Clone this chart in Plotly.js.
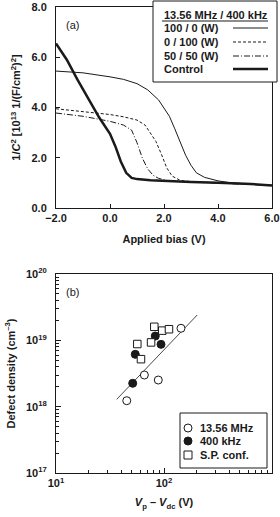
<!DOCTYPE html>
<html>
<head>
<meta charset="utf-8">
<script src="https://cdn.plot.ly/plotly-3.0.1.min.js"></script>
<style>
html,body{margin:0;padding:0;background:#fff;}
#chart{width:280px;height:517px;}
</style>
</head>
<body>
<div id="chart"></div>
<script>
// ---- Panel (a): 1/C^2 vs applied bias ----
const bias_100_0 = [-2, -1, 0, 0.5, 1.0, 1.4, 1.8, 2.0, 2.2, 2.4, 2.6, 2.8, 3.0, 3.2, 3.5, 4.0, 4.5, 5.0, 6.0];
const invC2_100_0 = [5.45, 5.38, 5.22, 5.12, 4.95, 4.7, 4.3, 4.0, 3.65, 3.15, 2.6, 2.1, 1.7, 1.4, 1.22, 1.08, 1.0, 0.97, 0.9];

const bias_0_100 = [-2, -1, 0, 0.5, 1.0, 1.3, 1.5, 1.7, 1.9, 2.1, 2.3, 2.6, 3.0, 4.0, 5.0, 6.0];
const invC2_0_100 = [3.95, 3.85, 3.72, 3.63, 3.5, 3.3, 3.0, 2.65, 2.15, 1.6, 1.27, 1.1, 1.05, 1.0, 0.96, 0.9];

const bias_50_50 = [-2, -1, 0, 0.5, 0.8, 1.0, 1.2, 1.4, 1.6, 1.8, 2.2, 3.0, 4.0, 5.0, 6.0];
const invC2_50_50 = [3.78, 3.65, 3.45, 3.3, 3.1, 2.6, 1.98, 1.55, 1.3, 1.18, 1.07, 1.03, 1.0, 0.96, 0.9];

const bias_control = [-2.0, -1.6, -1.2, -0.8, -0.4, 0.0, 0.2, 0.4, 0.6, 0.8, 1.0, 1.5, 2.0, 3.0, 4.0, 5.0, 6.0];
const invC2_control = [6.55, 5.9, 5.1, 4.35, 3.6, 2.95, 2.45, 1.85, 1.4, 1.2, 1.15, 1.1, 1.07, 1.03, 1.0, 0.97, 0.9];

const legendA_title = "13.56 MHz / 400 kHz";
const legendA_labels = ["100 / 0 (W)", "0 / 100 (W)", "50 / 50 (W)", "Control"];

// ---- Panel (b): defect density vs Vp - Vdc ----
const vdiff_1356 = [143.6, 65.8, 88.5, 45.2];
const defect_1356 = [1.52e19, 3.0e18, 2.52e18, 1.23e18];

const vdiff_400k = [83.0, 93.8, 54.2, 51.3];
const defect_400k = [1.16e19, 8.7e18, 6.15e18, 2.25e18];

const vdiff_sp = [81.3, 96.4, 111.2, 56.6, 75.9, 61.2];
const defect_sp = [1.60e19, 1.40e19, 1.47e19, 8.8e18, 9.3e18, 5.2e18];

const fit_x = [36.5, 203];
const fit_y = [1.29e18, 2.41e19];

const legendB_labels = ["13.56 MHz", "400 kHz", "S.P. conf."];

const xTicksA = [-2, 0, 2, 4, 6];
const yTicksA = [0, 2, 4, 6, 8];
const xTicksB = [10, 100, 1000];
const xTickTextB = ["10<sup>1</sup>", "10<sup>2</sup>", "10<sup>3</sup>"];
const yTicksB = [1e17, 1e18, 1e19, 1e20];
const yTickTextB = ["10<sup>17</sup>", "10<sup>18</sup>", "10<sup>19</sup>", "10<sup>20</sup>"];

// ---- layout helpers (pixel -> paper) ----
const W = 280, H = 517;
const M = {l: 56, r: 8, t: 7, b: 44};
const PW = W - M.l - M.r, PH = H - M.t - M.b;
const px = p => (p - M.l) / PW;
const py = p => (H - M.b - p) / PH;

const minorX = [], minorY = [];
for (let d = 1; d <= 2; d++) for (let k = 2; k <= 9; k++) minorX.push(k * Math.pow(10, d));
for (let d = 17; d <= 19; d++) for (let k = 2; k <= 9; k++) minorY.push(k * Math.pow(10, d));

const FONT = "Liberation Sans, Arial, sans-serif";
const INK = "#1a1a1a";

const traces = [
  {x: bias_100_0, y: invC2_100_0, xaxis: 'x', yaxis: 'y', mode: 'lines', line: {color: INK, width: 1}, showlegend: false},
  {x: bias_0_100, y: invC2_0_100, xaxis: 'x', yaxis: 'y', mode: 'lines', line: {color: INK, width: 1, dash: '3px,2px'}, showlegend: false},
  {x: bias_50_50, y: invC2_50_50, xaxis: 'x', yaxis: 'y', mode: 'lines', line: {color: INK, width: 1, dash: '6px,2px,1px,2px'}, showlegend: false},
  {x: bias_control, y: invC2_control, xaxis: 'x', yaxis: 'y', mode: 'lines', line: {color: INK, width: 2.5}, showlegend: false},
  {x: fit_x, y: fit_y, xaxis: 'x2', yaxis: 'y2', mode: 'lines', line: {color: INK, width: 0.8}, showlegend: false},
  {x: vdiff_1356, y: defect_1356, xaxis: 'x2', yaxis: 'y2', mode: 'markers',
   marker: {symbol: 'circle', size: 8, color: '#fff', line: {color: INK, width: 1}}, showlegend: false},
  {x: vdiff_400k, y: defect_400k, xaxis: 'x2', yaxis: 'y2', mode: 'markers',
   marker: {symbol: 'circle', size: 8, color: INK, line: {color: INK, width: 1}}, showlegend: false},
  {x: vdiff_sp, y: defect_sp, xaxis: 'x2', yaxis: 'y2', mode: 'markers',
   marker: {symbol: 'square', size: 7.5, color: '#fff', line: {color: INK, width: 1}}, showlegend: false}
];

const axCommon = {
  showline: true, linecolor: INK, linewidth: 1, mirror: true,
  ticks: 'inside', ticklen: 4, tickcolor: INK, showgrid: false, zeroline: false,
  tickfont: {family: FONT, size: 11, color: INK, weight: 'bold'}
};

const shapes = [];
const annotations = [];

// Legend (a)
shapes.push({type: 'rect', xref: 'paper', yref: 'paper', x0: px(153), x1: px(277), y0: py(82), y1: py(1),
  line: {color: INK, width: 1}, fillcolor: '#fff', layer: 'above'});
annotations.push({xref: 'paper', yref: 'paper', x: px(162), y: py(15), xanchor: 'left', yanchor: 'middle',
  text: '<b>' + legendA_title + '</b>', showarrow: false, font: {family: FONT, size: 11, color: INK}});
shapes.push({type: 'line', xref: 'paper', yref: 'paper', x0: px(162), x1: px(268), y0: py(21), y1: py(21),
  line: {color: INK, width: 1}});
const rowsA = [28, 42, 56, 69];
const stylesA = [{width: 1}, {width: 1, dash: '3px,2px'}, {width: 1, dash: '6px,2px,1px,2px'}, {width: 2.5}];
rowsA.forEach((r, i) => {
  annotations.push({xref: 'paper', yref: 'paper', x: px(162), y: py(r), xanchor: 'left', yanchor: 'middle',
    text: '<b>' + legendA_labels[i] + '</b>', showarrow: false, font: {family: FONT, size: 11, color: INK}});
  shapes.push({type: 'line', xref: 'paper', yref: 'paper', x0: px(233), x1: px(268), y0: py(r), y1: py(r),
    line: Object.assign({color: INK}, stylesA[i])});
});

// Legend (b)
shapes.push({type: 'rect', xref: 'paper', yref: 'paper', x0: px(180), x1: px(267), y0: py(468), y1: py(413),
  line: {color: INK, width: 1}, fillcolor: '#fff', layer: 'above'});
const rowsB = [428, 441, 455];
const mk = [
  {type: 'circle', fill: '#fff'},
  {type: 'circle', fill: INK},
  {type: 'rect', fill: '#fff'}
];
rowsB.forEach((r, i) => {
  shapes.push({type: mk[i].type, xref: 'paper', yref: 'paper', xsizemode: 'pixel', ysizemode: 'pixel',
    xanchor: px(188), yanchor: py(r), x0: -4, x1: 4, y0: -4, y1: 4,
    line: {color: INK, width: 1}, fillcolor: mk[i].fill, layer: 'above'});
  annotations.push({xref: 'paper', yref: 'paper', x: px(198), y: py(r), xanchor: 'left', yanchor: 'middle',
    text: '<b>' + legendB_labels[i] + '</b>', showarrow: false, font: {family: FONT, size: 11, color: INK}});
});

// Panel labels
annotations.push({xref: 'paper', yref: 'paper', x: px(72), y: py(25), xanchor: 'center', yanchor: 'middle',
  text: '(a)', showarrow: false, font: {family: FONT, size: 11, color: INK}});
annotations.push({xref: 'paper', yref: 'paper', x: px(72), y: py(292), xanchor: 'center', yanchor: 'middle',
  text: '(b)', showarrow: false, font: {family: FONT, size: 11, color: INK}});

const layout = {
  width: W, height: H,
  margin: M,
  paper_bgcolor: '#fff', plot_bgcolor: '#fff',
  showlegend: false,
  font: {family: FONT, color: INK},
  xaxis: Object.assign({}, axCommon, {
    domain: [0, 1], anchor: 'y', range: [-2, 6], tickvals: xTicksA, tickformat: '.1f',
    title: {text: '<b>Applied bias (V)</b>', font: {family: FONT, size: 11, color: INK}, standoff: 12}
  }),
  yaxis: Object.assign({}, axCommon, {
    domain: [py(208), 1], anchor: 'x', range: [0, 8], tickvals: yTicksA, tickformat: '.1f', ticklabelstandoff: 6,
    title: {text: '<b>1/<i>C</i><sup>2</sup> [10<sup>13</sup> 1/(F/cm<sup>2</sup>)<sup>2</sup>]</b>', font: {family: FONT, size: 11, color: INK}, standoff: 8}
  }),
  xaxis2: Object.assign({}, axCommon, {
    domain: [0, 1], anchor: 'y2', type: 'log', range: [1, 3], tickvals: xTicksB, ticktext: xTickTextB, ticklen: 5,
    minor: {tickvals: minorX, ticks: 'inside', ticklen: 3, tickcolor: INK, showgrid: false},
    title: {text: '<b><i>V</i><sub>p</sub> – <i>V</i><sub>dc</sub> (V)</b>', font: {family: FONT, size: 11, color: INK}, standoff: 10}
  }),
  yaxis2: Object.assign({}, axCommon, {
    domain: [0, py(274)], anchor: 'x2', type: 'log', range: [17, 20], tickvals: yTicksB, ticktext: yTickTextB, ticklen: 5,
    ticklabelstandoff: 6,
    minor: {tickvals: minorY, ticks: 'inside', ticklen: 3, tickcolor: INK, showgrid: false},
    title: {text: '<b>Defect density (cm<sup>–3</sup>)</b>', font: {family: FONT, size: 11, color: INK}, standoff: 8}
  }),
  shapes: shapes,
  annotations: annotations
};

Plotly.newPlot('chart', traces, layout, {displayModeBar: false, staticPlot: true});
</script>
</body>
</html>
